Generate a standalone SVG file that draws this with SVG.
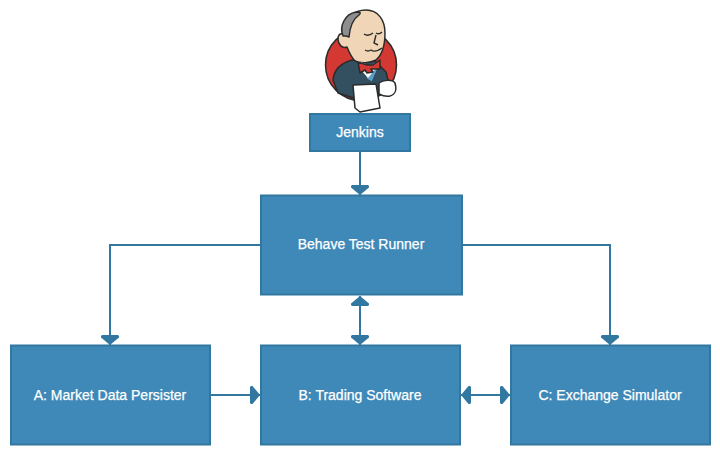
<svg xmlns="http://www.w3.org/2000/svg" width="720" height="455" viewBox="0 0 720 455">
<defs>
<style>
.box{fill:#3f89b8;stroke:#32779f;stroke-width:2}
.lbl{font-family:"Liberation Sans",Arial,sans-serif;font-size:14px;fill:#fff;text-anchor:middle;font-weight:400;stroke:#fff;stroke-width:.25}
.c{fill:none;stroke:#32779f;stroke-width:2}
.o{stroke:#2b2b2b;stroke-width:1.5;stroke-linejoin:round}
</style>
<marker id="a" viewBox="0 0 10 18" refX="10" refY="9" markerWidth="10" markerHeight="18" markerUnits="userSpaceOnUse" orient="auto-start-reverse"><path d="M0 1 L1 0 L2.500 0 L10 9 L2.500 18 L1 18 L0 17 Z" fill="#32779f"/></marker>
</defs>
<g id="mascot">
<circle cx="361" cy="65" r="35.500" fill="#d33833" class="o"/>
<path class="o" fill="#335061" d="M352 60 C341 63 334 70 333 80 L338 93 L354 98 L376 98 L390 88 L386 72 L374 60 Z"/>
<path class="o" fill="#f0d6b7" d="M343 34 C345 18 354 10 366 10 C378 10 385 20 385 33 C385 44 383 54 376 60 C370 63 361 64 355 61 C351 57 349 52 347 47 C342 49 338 44 338 39 C338 35 340 33 343 34 Z"/>
<path class="o" fill="#8e8e8e" d="M343 36 C339 26 345 14 356 12 C361 12 361 13 359 15 C353 19 350 26 349 37 L346 36 Z"/>
<path fill="none" stroke="#2b2b2b" stroke-width="1.400" d="M364 34 q4 3 9 -1 M376 33 q3 2 6 -1 M365 50 q3 2 6 0 q4 3 11 -2 M376 35 l-2 8 l4 2"/>
<path fill="#5b9ec9" stroke="#2b2b2b" stroke-width=".6" d="M363 70 L378 68 L372 82 L367 79 Z"/>
<path fill="#fff" d="M358 61 L366 64 L369 67 L375 63 L378 66 L368 78 L361 70 Z"/>
<path class="o" fill="#d33833" stroke-width="1" d="M358 62 L367 65 L373 65 L380 60 L380 69 L371 69 L373 72 L367 73 L365 70 L360 73 Z"/>
<path class="o" fill="#fff" d="M353 85 L376 84 L380 108 L360 112 L355 108 Z"/>
<path class="o" fill="#fff" d="M379 83 C383 80 392 79 395 83 C397 90 396 94 390 96 C385 97 381 95 379 94 Z"/>
</g>
<g id="connectors">
<path class="c" style="marker-end:url(#a)" d="M360 152V195"/>
<path class="c" style="marker-end:url(#a)" d="M261 245H110V345"/>
<path class="c" style="marker-end:url(#a)" d="M463 245H610V345"/>
<path class="c" style="marker-start:url(#a);marker-end:url(#a)" d="M360 296V345"/>
<path class="c" style="marker-end:url(#a)" d="M211 395H260"/>
<path class="c" style="marker-start:url(#a);marker-end:url(#a)" d="M461 395H510"/>
</g>
<g id="jenkins"><rect class="box" x="310" y="114" width="100" height="37"/><text class="lbl" x="360" y="137">Jenkins</text></g>
<g id="runner"><rect class="box" x="261" y="195.500" width="201" height="99"/><text class="lbl" x="361" y="249">Behave Test Runner</text></g>
<g id="a-node"><rect class="box" x="11" y="345.500" width="199" height="99"/><text class="lbl" x="110" y="400">A: Market Data Persister</text></g>
<g id="b-node"><rect class="box" x="261" y="345.500" width="199" height="99"/><text class="lbl" x="360" y="400">B: Trading Software</text></g>
<g id="c-node"><rect class="box" x="511" y="345.500" width="199" height="99"/><text class="lbl" x="610" y="400">C: Exchange Simulator</text></g>
</svg>
